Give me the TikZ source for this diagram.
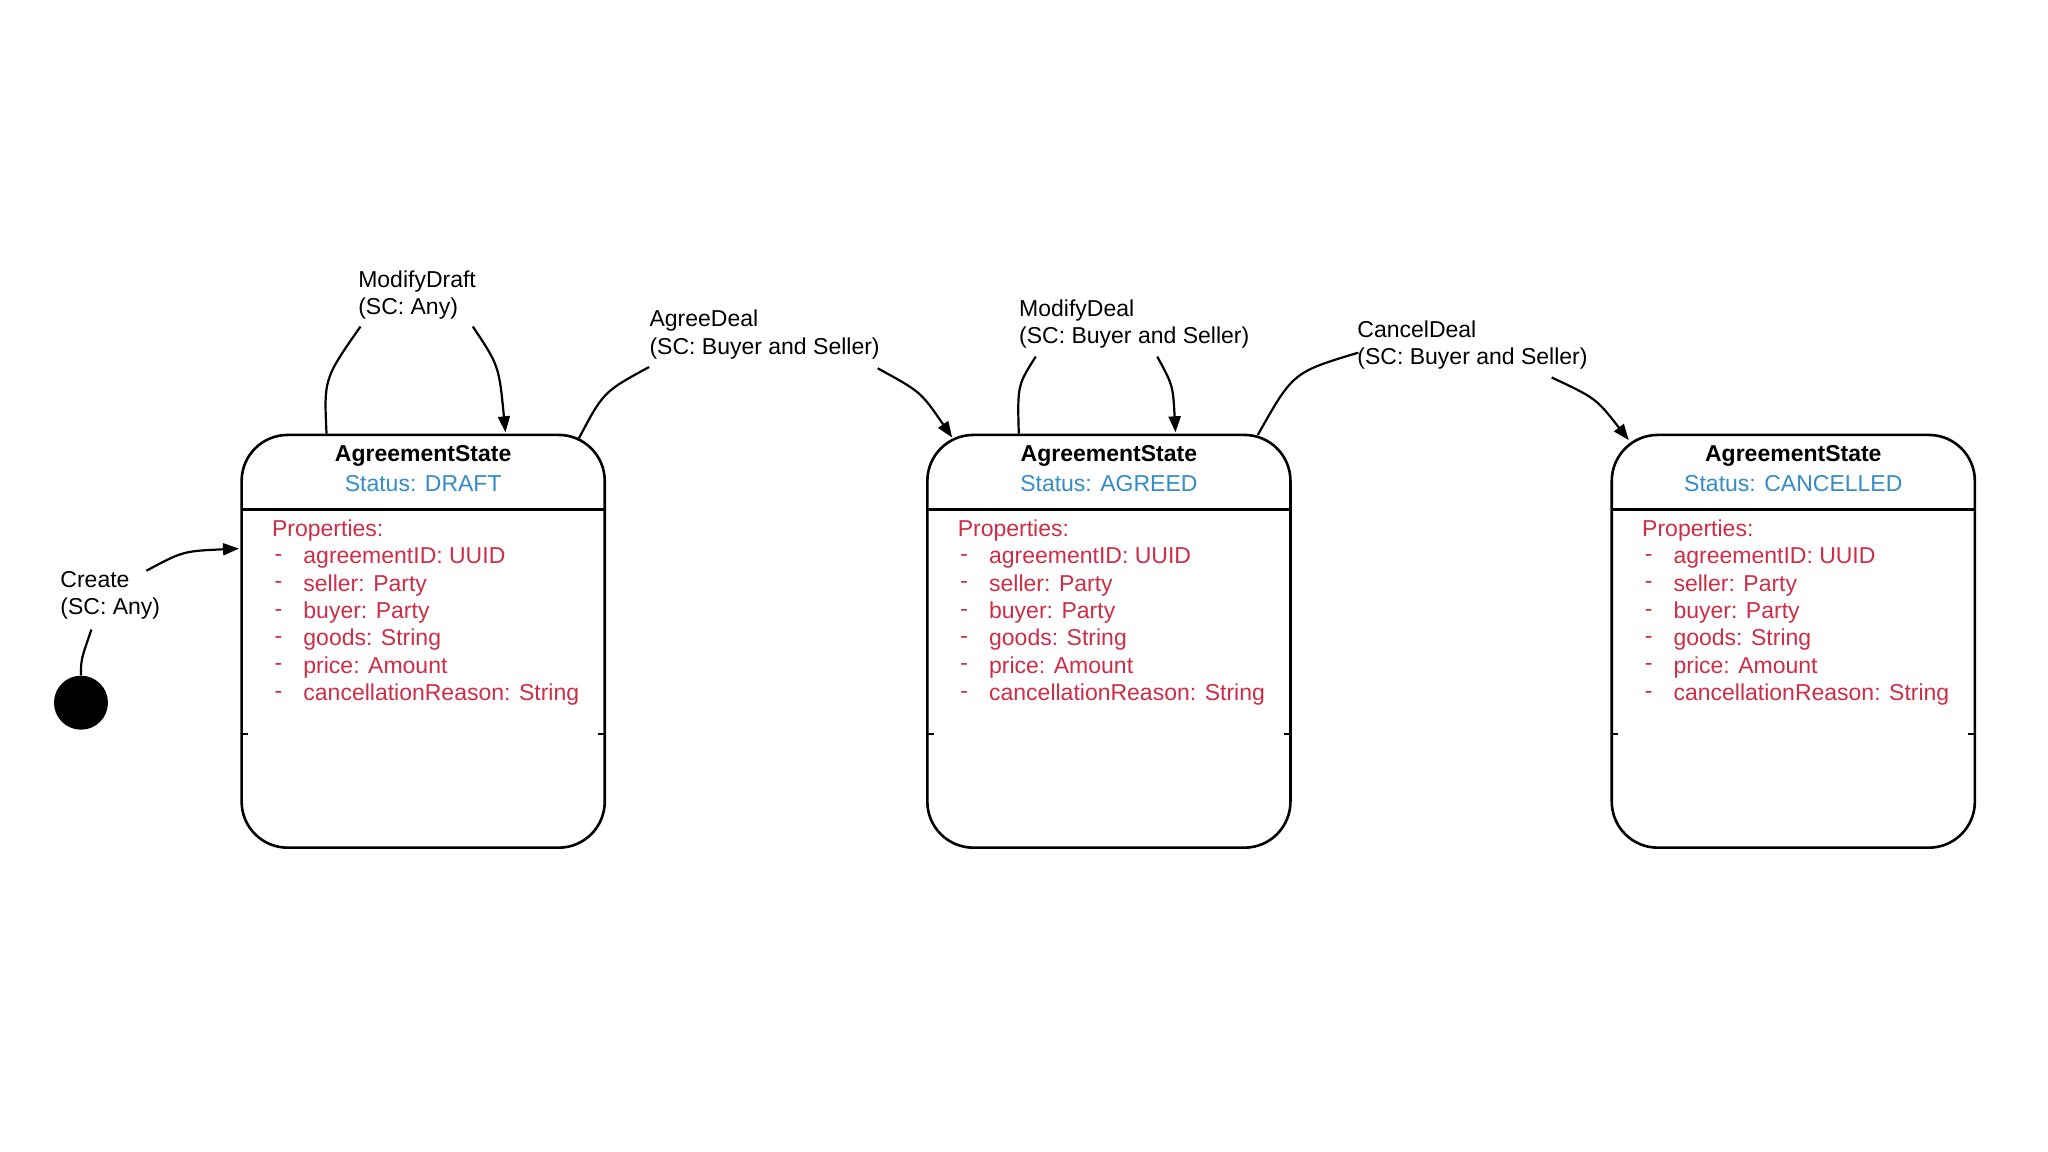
\documentclass[tikz,border=0pt]{standalone}
\usepackage{fontspec}
\setmainfont{Liberation Sans}
\usetikzlibrary{arrows.meta}
\definecolor{stblue}{RGB}{52,140,200}
\definecolor{prred}{RGB}{205,45,70}
\tikzset{
  lbl/.style={align=left,anchor=north west,inner sep=0pt,font=\fontsize{11.5}{13.7}\selectfont},
  conn/.style={line width=1.1pt},
  arr/.style={line width=1.1pt,-{Triangle[length=8pt,width=6pt]}},
  frame/.style={line width=1.3pt,rounded corners=23pt},
}
\newcommand{\statebox}[3]{%
  \draw[frame] (#1,333) rectangle (#1+278,649);
  \coordinate (#3-tl) at (#1,333);
  \draw[line width=1.3pt] (#1,390) -- (#1+278,390);
  \draw[line width=1pt] (#1,562) -- (#1+5,562) (#1+278,562) -- (#1+273,562);
  \node[font=\bfseries\fontsize{11.5}{13.7}\selectfont] at (#1+139,349) {AgreementState};
  \node[font=\fontsize{11.5}{13.7}\selectfont,text=stblue] at (#1+139,370) {Status: #2};
  \node[lbl,text=prred,anchor=west] at (#1+23,406) {Properties:};
  \foreach \t [count=\i] in {agreementID: UUID,seller: Party,buyer: Party,goods: String,price: Amount,cancellationReason: String}{
    \node[lbl,text=prred,anchor=west] at (#1+25,406+21*\i) {-};
    \node[lbl,text=prred,anchor=west] at (#1+47,406+21*\i) {\t};
  }
}
\begin{document}
\begin{tikzpicture}[x=0.653pt,y=-0.653pt]
\useasboundingbox[fill=white] (0,0) rectangle (1568,882);
\statebox{185}{DRAFT}{s1}
\statebox{710}{AGREED}{s2}
\statebox{1234}{CANCELLED}{s3}
% initial
\node[circle,fill=black,minimum size=27pt,inner sep=0pt] (init) at (62,538) {};
% labels
\node[lbl] (create) at (46,437) {Create\\(SC: Any)};
\node[lbl] (mdraft) at (274,207) {ModifyDraft\\(SC: Any)};
\node[lbl] (agree) at (497,237) {AgreeDeal\\(SC: Buyer and Seller)};
\node[lbl] (mdeal) at (780,229) {ModifyDeal\\(SC: Buyer and Seller)};
\node[lbl] (cancel) at (1039,245) {CancelDeal\\(SC: Buyer and Seller)};
\coordinate (c1a) at (70,482); \coordinate (c1b) at (112,437); \coordinate (c1t) at (183,420);
\draw[conn] (init.north) .. controls (62,505) .. (c1a);
\draw[arr] (c1b) .. controls (140,422) .. (c1t);
\coordinate (m1a) at (250,332); \coordinate (m1b) at (276,250);
\coordinate (m1c) at (362,250); \coordinate (m1d) at (387,331);
\draw[conn] (m1a) .. controls (248,290) .. (m1b);
\draw[arr] (m1c) .. controls (382,280) .. (m1d);
\coordinate (a1) at (443,336); \coordinate (a2) at (497,281);
\coordinate (a3) at (672,282); \coordinate (a4) at (729,335);
\draw[conn] (a1) .. controls (462,300) .. (a2);
\draw[arr] (a3) .. controls (705,300) .. (a4);
\coordinate (d1) at (780,332); \coordinate (d2) at (793,273);
\coordinate (d3) at (886,273); \coordinate (d4) at (900,331);
\draw[conn] (d1) .. controls (779,295) .. (d2);
\draw[arr] (d3) .. controls (898,295) .. (d4);
\coordinate (k1) at (963,333); \coordinate (k2) at (1040,270);
\coordinate (k3) at (1188,289); \coordinate (k4) at (1247,337);
\draw[conn] (k1) .. controls (990,285) .. (k2);
\draw[arr] (k3) .. controls (1222,305) .. (k4);
\end{tikzpicture}
\end{document}
